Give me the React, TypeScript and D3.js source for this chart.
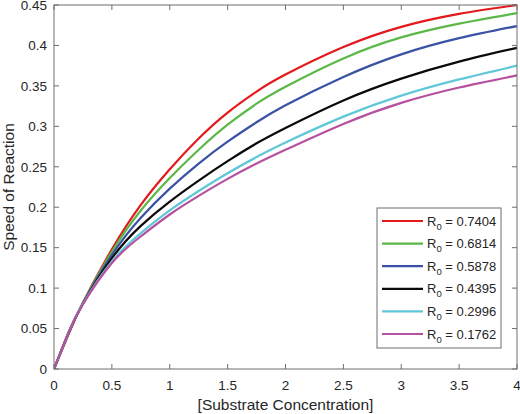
import React from 'react';
import * as d3 from 'd3';

// Substrate concentration sample points (x)
const substrate = [0, 0.125, 0.25, 0.5, 0.75, 1, 1.25, 1.5, 1.75, 2, 2.5, 3, 3.5, 4];

// Speed of reaction for each R0
const speedR0_7404 = [0, 0.043, 0.082, 0.148, 0.203, 0.247, 0.285, 0.317, 0.343, 0.364, 0.398, 0.423, 0.439, 0.45];
const speedR0_6814 = [0, 0.044, 0.082, 0.145, 0.196, 0.236, 0.271, 0.302, 0.328, 0.349, 0.384, 0.41, 0.427, 0.44];
const speedR0_5878 = [0, 0.044, 0.081, 0.141, 0.187, 0.223, 0.254, 0.281, 0.305, 0.326, 0.361, 0.389, 0.409, 0.424];
const speedR0_4395 = [0, 0.045, 0.081, 0.137, 0.177, 0.207, 0.233, 0.257, 0.279, 0.298, 0.332, 0.359, 0.38, 0.397];
const speedR0_2996 = [0, 0.045, 0.081, 0.133, 0.168, 0.196, 0.22, 0.242, 0.262, 0.28, 0.312, 0.338, 0.358, 0.375];
const speedR0_1762 = [0, 0.045, 0.08, 0.131, 0.164, 0.191, 0.214, 0.235, 0.254, 0.271, 0.303, 0.329, 0.348, 0.363];

const r0Labels = ['0.7404', '0.6814', '0.5878', '0.4395', '0.2996', '0.1762'];
const seriesValues = [speedR0_7404, speedR0_6814, speedR0_5878, speedR0_4395, speedR0_2996, speedR0_1762];

const xTicks = [0, 0.5, 1, 1.5, 2, 2.5, 3, 3.5, 4];
const xTickLabels = ['0', '0.5', '1', '1.5', '2', '2.5', '3', '3.5', '4'];
const yTicks = [0, 0.05, 0.1, 0.15, 0.2, 0.25, 0.3, 0.35, 0.4, 0.45];
const yTickLabels = ['0', '0.05', '0.1', '0.15', '0.2', '0.25', '0.3', '0.35', '0.4', '0.45'];

const xTitle = '[Substrate Concentration]';
const yTitle = 'Speed of Reaction';

const colors = ['#e3191c', '#5bb848', '#3a52a3', '#0a0a0a', '#5fc7d7', '#b6519f'];

const W = 520;
const H = 414;
const L = 54;
const R = 517;
const T = 5;
const B = 369;
const FONT = '"Liberation Sans", Arial, Helvetica, sans-serif';
const AXIS = '#6e6e6e';

export default function App() {
  const x = d3.scaleLinear().domain([0, 4]).range([L, R]);
  const y = d3.scaleLinear().domain([0, 0.45]).range([B, T]);
  const line = d3
    .line<number>()
    .x((_, i) => x(substrate[i]))
    .y((d) => y(d))
    .curve(d3.curveNatural);

  const tickLen = 5;
  const legX = 377;
  const legY = 208;
  const legW = 124;
  const legH = 140;
  const rowY0 = 221;
  const rowStep = 22.6;

  return (
    <svg
      width={W}
      height={H}
      style={{ position: 'absolute', left: 0, top: 0, background: '#fff' }}
      fontFamily={FONT}
    >
      <rect x={0} y={0} width={W} height={H} fill="#fff" />
      <defs>
        <clipPath id="plotClip">
          <rect x={L} y={T - 2} width={R - L + 2} height={B - T + 2} />
        </clipPath>
      </defs>

      {/* curves */}
      <g clipPath="url(#plotClip)">
        {seriesValues.map((vals, i) => (
          <path
            key={i}
            d={line(vals) || ''}
            fill="none"
            stroke={colors[i]}
            strokeWidth={2.2}
            strokeLinejoin="round"
          />
        ))}
      </g>

      {/* axes box */}
      <rect x={L} y={T} width={R - L} height={B - T} fill="none" stroke={AXIS} strokeWidth={1} />

      {/* x ticks */}
      {xTicks.map((t, i) => (
        <g key={'xt' + i}>
          <line x1={x(t)} x2={x(t)} y1={B} y2={B - tickLen} stroke={AXIS} />
          <line x1={x(t)} x2={x(t)} y1={T} y2={T + tickLen} stroke={AXIS} />
          <text x={x(t)} y={390} fontSize={13.5} textAnchor="middle" fill="#262626">
            {xTickLabels[i]}
          </text>
        </g>
      ))}

      {/* y ticks */}
      {yTicks.map((t, i) => (
        <g key={'yt' + i}>
          <line x1={L} x2={L + tickLen} y1={y(t)} y2={y(t)} stroke={AXIS} />
          <line x1={R} x2={R - tickLen} y1={y(t)} y2={y(t)} stroke={AXIS} />
          <text x={47} y={Math.max(y(t), 5.5)} dy="0.35em" fontSize={13.5} textAnchor="end" fill="#262626">
            {yTickLabels[i]}
          </text>
        </g>
      ))}

      {/* axis titles */}
      <text x={(L + R) / 2} y={410} fontSize={15.5} textAnchor="middle" fill="#262626">
        {xTitle}
      </text>
      <text
        transform={`translate(13.5, ${(T + B) / 2}) rotate(-90)`}
        fontSize={15.5}
        textAnchor="middle"
        fill="#262626"
      >
        {yTitle}
      </text>

      {/* legend */}
      <rect x={legX} y={legY} width={legW} height={legH} fill="#fff" stroke={AXIS} strokeWidth={1} />
      {r0Labels.map((lab, i) => {
        const ry = rowY0 + i * rowStep;
        return (
          <g key={'lg' + i}>
            <line x1={382} x2={423} y1={ry} y2={ry} stroke={colors[i]} strokeWidth={2.2} />
            <text x={427} y={ry + 4.5} fontSize={13} fill="#262626">
              <tspan>R</tspan>
              <tspan dy={4} fontSize={9.5}>0</tspan>
              <tspan dy={-4}>{' = ' + lab}</tspan>
            </text>
          </g>
        );
      })}
    </svg>
  );
}
